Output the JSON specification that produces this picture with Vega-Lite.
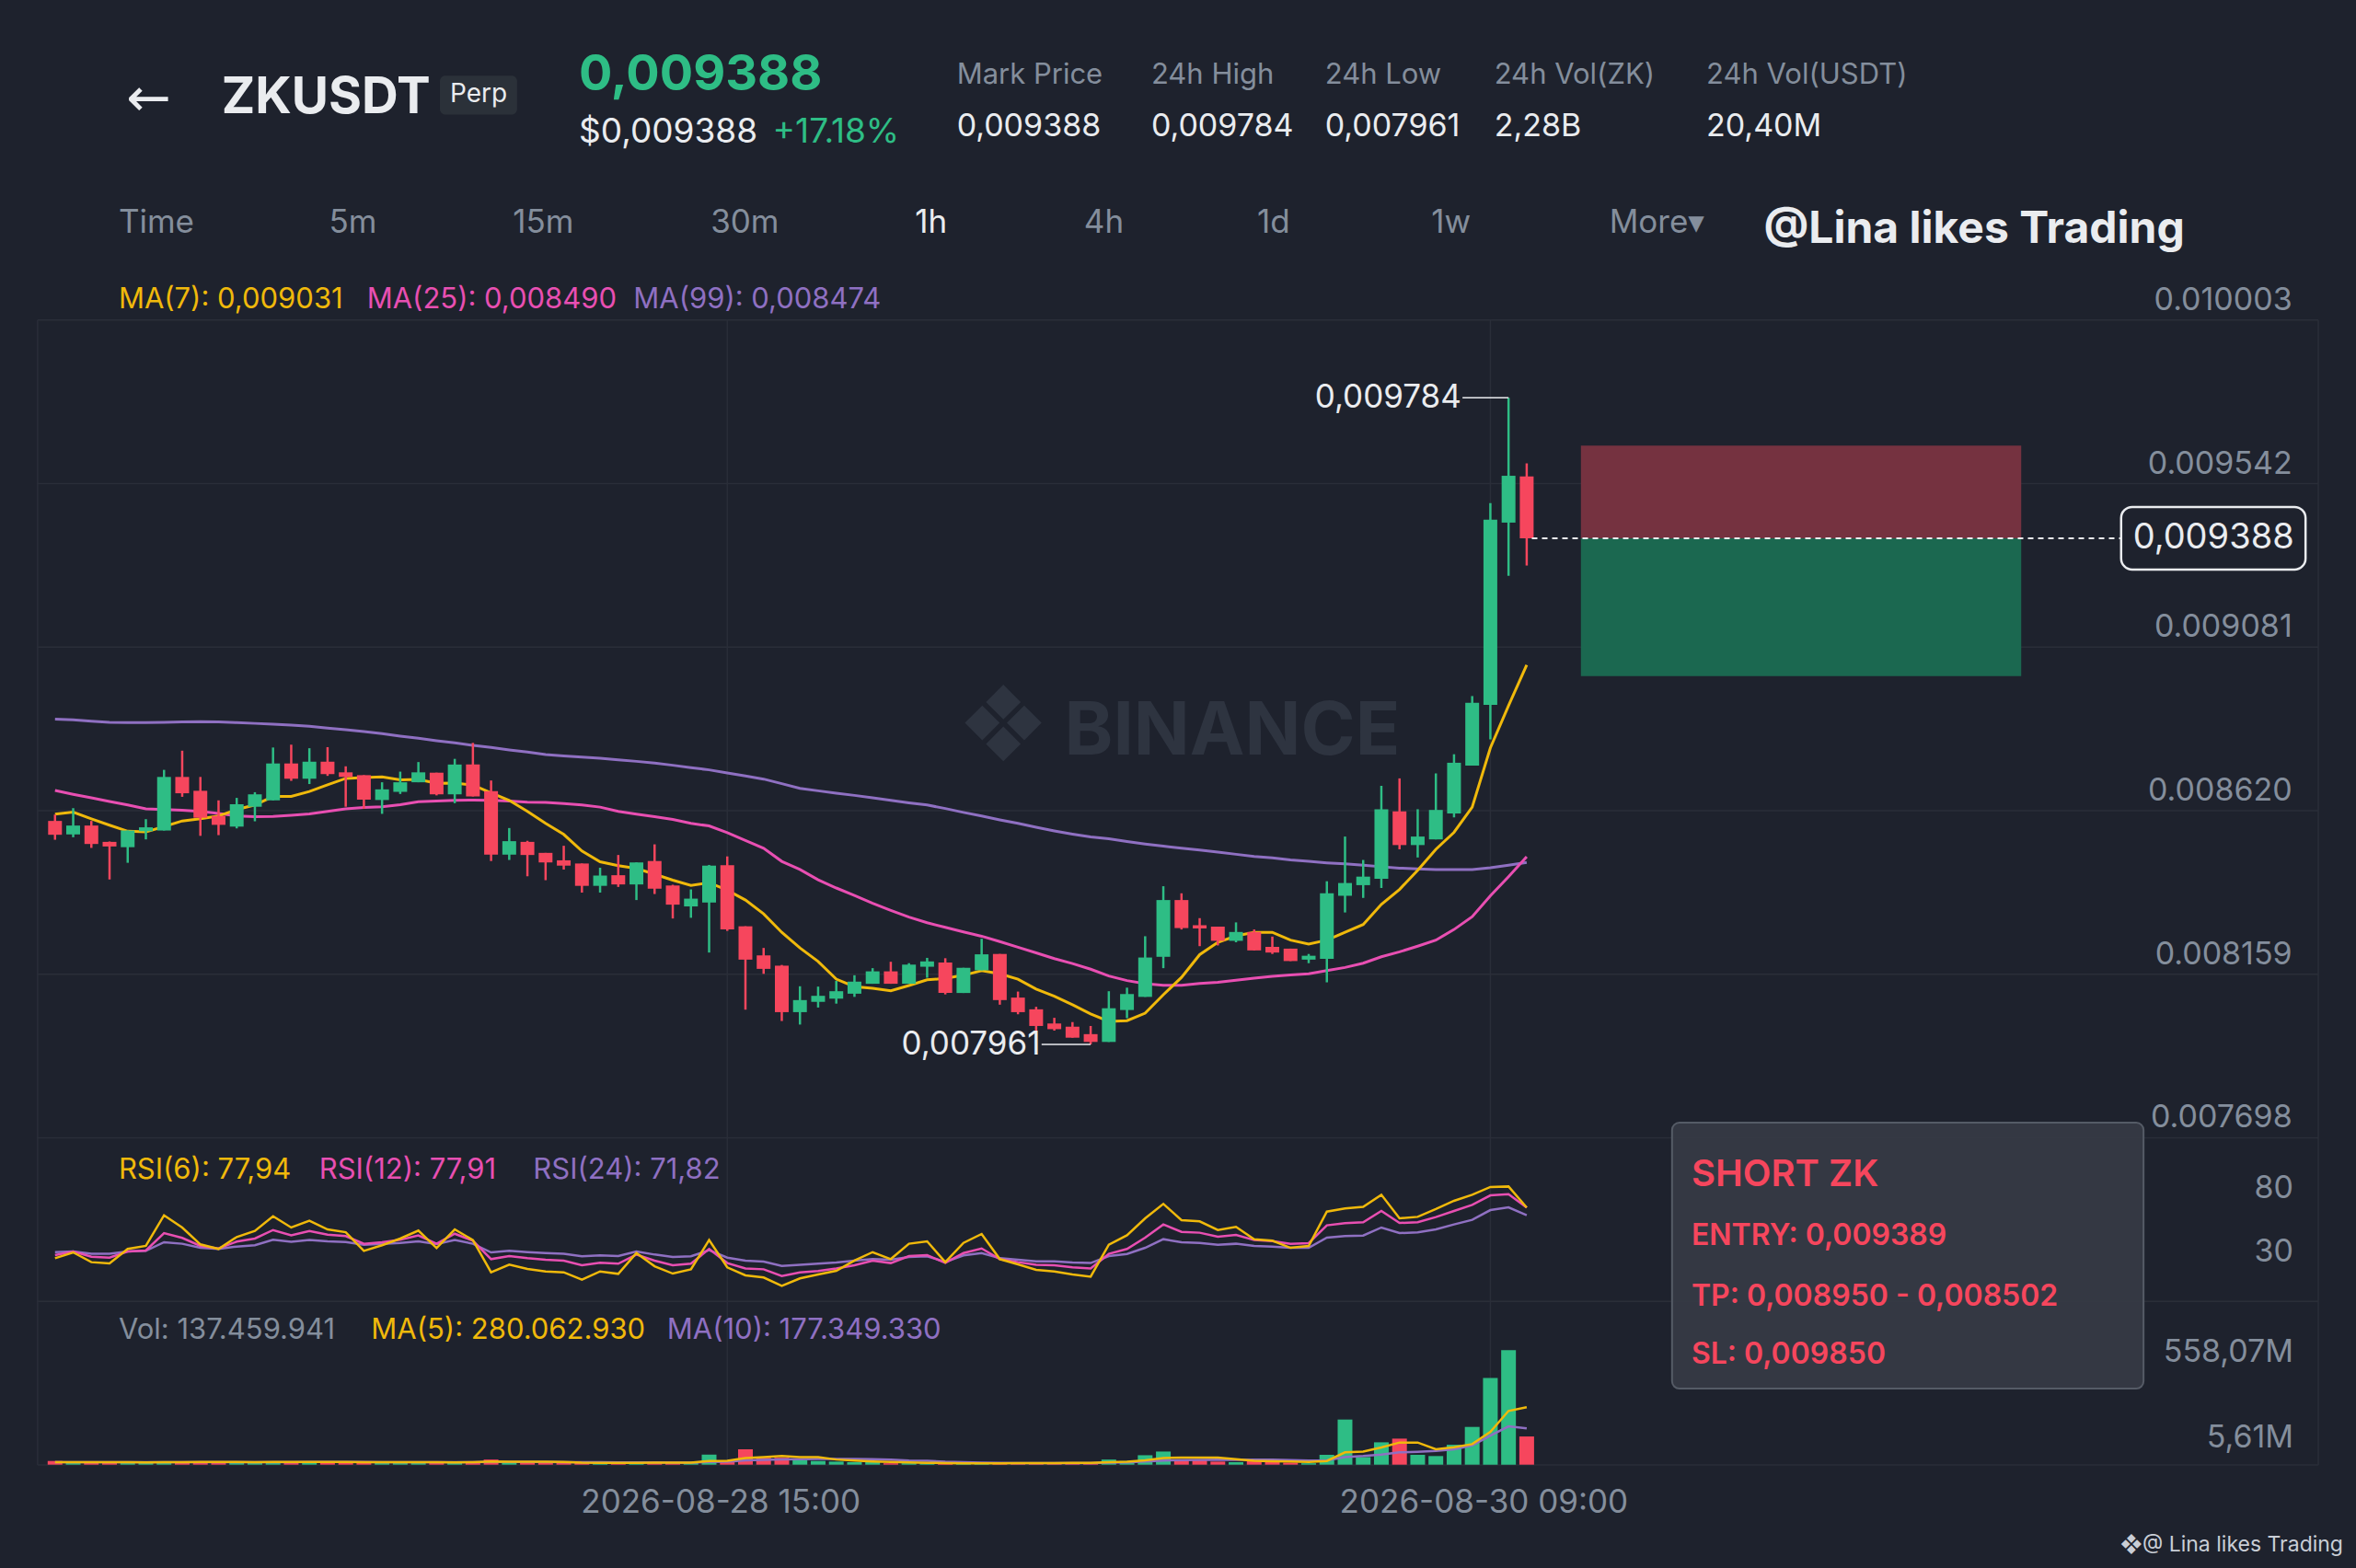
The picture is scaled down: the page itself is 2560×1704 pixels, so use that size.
{
  "$schema": "https://vega.github.io/schema/vega-lite/v6.json",
  "width": 2560,
  "height": 1704,
  "autosize": {"type": "fit", "contains": "padding"},
  "padding": 0,
  "background": "#1e222d",
  "config": {
    "view": {"stroke": null},
    "axis": {"disable": true},
    "font": "Inter",
    "text": {"font": "Inter, 'DejaVu Sans', sans-serif"}
  },
  "datasets": {
    "k": [
      {"t":"2026-08-27T02:00","o":0.008591,"h":0.008609,"l":0.008538,"c":0.008552,"ma7":0.008610,"ma25":0.008677,"ma99":0.008878,"rsi6":38.0,"rsi12":40.4,"rsi24":42.8,"v":18000000,"vma5":12000000,"vma10":12000000},
      {"t":"2026-08-27T03:00","o":0.008553,"h":0.008627,"l":0.008545,"c":0.008578,"ma7":0.008616,"ma25":0.008666,"ma99":0.008876,"rsi6":42.6,"rsi12":43.3,"rsi24":43.3,"v":10000000,"vma5":12000000,"vma10":12000000},
      {"t":"2026-08-27T04:00","o":0.008578,"h":0.008591,"l":0.008515,"c":0.008526,"ma7":0.008597,"ma25":0.008656,"ma99":0.008872,"rsi6":34.9,"rsi12":39.2,"rsi24":41.6,"v":10000000,"vma5":12000000,"vma10":12000000},
      {"t":"2026-08-27T05:00","o":0.008532,"h":0.008533,"l":0.008426,"c":0.008519,"ma7":0.008579,"ma25":0.008646,"ma99":0.008869,"rsi6":33.9,"rsi12":38.5,"rsi24":41.6,"v":10000000,"vma5":12000000,"vma10":12000000},
      {"t":"2026-08-27T06:00","o":0.008517,"h":0.008564,"l":0.008473,"c":0.008564,"ma7":0.008562,"ma25":0.008636,"ma99":0.008868,"rsi6":45.3,"rsi12":43.3,"rsi24":43.3,"v":12000000,"vma5":12000000,"vma10":12000000},
      {"t":"2026-08-27T07:00","o":0.008562,"h":0.008596,"l":0.008539,"c":0.008573,"ma7":0.008560,"ma25":0.008625,"ma99":0.008868,"rsi6":47.7,"rsi12":44.1,"rsi24":43.8,"v":12000000,"vma5":11000000,"vma10":12000000},
      {"t":"2026-08-27T08:00","o":0.008564,"h":0.008735,"l":0.008564,"c":0.008715,"ma7":0.008575,"ma25":0.008623,"ma99":0.008869,"rsi6":71.8,"rsi12":57.8,"rsi24":50.6,"v":15000000,"vma5":12000000,"vma10":12000000},
      {"t":"2026-08-27T09:00","o":0.008715,"h":0.008789,"l":0.008659,"c":0.008669,"ma7":0.008591,"ma25":0.008621,"ma99":0.008870,"rsi6":62.2,"rsi12":54.0,"rsi24":49.4,"v":13000000,"vma5":12000000,"vma10":12000000},
      {"t":"2026-08-27T10:00","o":0.008676,"h":0.008715,"l":0.008549,"c":0.008600,"ma7":0.008597,"ma25":0.008618,"ma99":0.008871,"rsi6":48.9,"rsi12":47.7,"rsi24":46.2,"v":13000000,"vma5":13000000,"vma10":12000000},
      {"t":"2026-08-27T11:00","o":0.008605,"h":0.008649,"l":0.008551,"c":0.008580,"ma7":0.008605,"ma25":0.008612,"ma99":0.008870,"rsi6":45.3,"rsi12":45.7,"rsi24":45.3,"v":12000000,"vma5":13000000,"vma10":12000000},
      {"t":"2026-08-27T12:00","o":0.008575,"h":0.008656,"l":0.008570,"c":0.008638,"ma7":0.008623,"ma25":0.008605,"ma99":0.008868,"rsi6":54.7,"rsi12":51.1,"rsi24":47.2,"v":12000000,"vma5":13000000,"vma10":12000000},
      {"t":"2026-08-27T13:00","o":0.008631,"h":0.008672,"l":0.008590,"c":0.008666,"ma7":0.008636,"ma25":0.008603,"ma99":0.008866,"rsi6":59.5,"rsi12":53.5,"rsi24":48.2,"v":12000000,"vma5":12000000,"vma10":12000000},
      {"t":"2026-08-27T14:00","o":0.008649,"h":0.008798,"l":0.008649,"c":0.008753,"ma7":0.008660,"ma25":0.008604,"ma99":0.008864,"rsi6":71.1,"rsi12":60.2,"rsi24":52.5,"v":15000000,"vma5":13000000,"vma10":12000000},
      {"t":"2026-08-27T15:00","o":0.008753,"h":0.008806,"l":0.008704,"c":0.008710,"ma7":0.008660,"ma25":0.008607,"ma99":0.008861,"rsi6":62.2,"rsi12":56.1,"rsi24":51.0,"v":13000000,"vma5":13000000,"vma10":12000000},
      {"t":"2026-08-27T16:00","o":0.008710,"h":0.008796,"l":0.008695,"c":0.008758,"ma7":0.008674,"ma25":0.008611,"ma99":0.008858,"rsi6":67.5,"rsi12":59.5,"rsi24":52.3,"v":13000000,"vma5":13000000,"vma10":13000000},
      {"t":"2026-08-27T17:00","o":0.008758,"h":0.008799,"l":0.008718,"c":0.008723,"ma7":0.008693,"ma25":0.008618,"ma99":0.008853,"rsi6":60.7,"rsi12":56.6,"rsi24":51.3,"v":12000000,"vma5":13000000,"vma10":13000000},
      {"t":"2026-08-27T18:00","o":0.008728,"h":0.008745,"l":0.008631,"c":0.008715,"ma7":0.008711,"ma25":0.008625,"ma99":0.008848,"rsi6":58.5,"rsi12":55.4,"rsi24":50.8,"v":12000000,"vma5":13000000,"vma10":13000000},
      {"t":"2026-08-27T19:00","o":0.008720,"h":0.008720,"l":0.008625,"c":0.008651,"ma7":0.008713,"ma25":0.008629,"ma99":0.008843,"rsi6":43.8,"rsi12":49.4,"rsi24":48.6,"v":13000000,"vma5":12000000,"vma10":13000000},
      {"t":"2026-08-27T20:00","o":0.008650,"h":0.008700,"l":0.008611,"c":0.008680,"ma7":0.008715,"ma25":0.008631,"ma99":0.008837,"rsi6":48.2,"rsi12":50.6,"rsi24":49.4,"v":12000000,"vma5":12000000,"vma10":12000000},
      {"t":"2026-08-27T21:00","o":0.008673,"h":0.008730,"l":0.008667,"c":0.008700,"ma7":0.008707,"ma25":0.008637,"ma99":0.008830,"rsi6":53.5,"rsi12":52.5,"rsi24":50.1,"v":12000000,"vma5":12000000,"vma10":12000000},
      {"t":"2026-08-27T22:00","o":0.008700,"h":0.008757,"l":0.008700,"c":0.008728,"ma7":0.008708,"ma25":0.008645,"ma99":0.008824,"rsi6":59.8,"rsi12":55.9,"rsi24":51.3,"v":12000000,"vma5":12000000,"vma10":12000000},
      {"t":"2026-08-27T23:00","o":0.008727,"h":0.008727,"l":0.008663,"c":0.008666,"ma7":0.008697,"ma25":0.008647,"ma99":0.008817,"rsi6":46.0,"rsi12":49.4,"rsi24":49.1,"v":13000000,"vma5":12000000,"vma10":12000000},
      {"t":"2026-08-28T00:00","o":0.008666,"h":0.008766,"l":0.008641,"c":0.008750,"ma7":0.008698,"ma25":0.008649,"ma99":0.008811,"rsi6":60.7,"rsi12":57.3,"rsi24":52.3,"v":8000000,"vma5":11000000,"vma10":12000000},
      {"t":"2026-08-28T01:00","o":0.008750,"h":0.008811,"l":0.008660,"c":0.008660,"ma7":0.008692,"ma25":0.008650,"ma99":0.008804,"rsi6":52.3,"rsi12":51.8,"rsi24":49.4,"v":15000000,"vma5":12000000,"vma10":12000000},
      {"t":"2026-08-28T02:00","o":0.008675,"h":0.008705,"l":0.008478,"c":0.008496,"ma7":0.008670,"ma25":0.008649,"ma99":0.008798,"rsi6":26.9,"rsi12":37.3,"rsi24":42.6,"v":25000000,"vma5":15000000,"vma10":13000000},
      {"t":"2026-08-28T03:00","o":0.008496,"h":0.008571,"l":0.008481,"c":0.008534,"ma7":0.008649,"ma25":0.008647,"ma99":0.008791,"rsi6":32.9,"rsi12":39.7,"rsi24":43.8,"v":10000000,"vma5":14000000,"vma10":13000000},
      {"t":"2026-08-28T04:00","o":0.008532,"h":0.008535,"l":0.008435,"c":0.008495,"ma7":0.008618,"ma25":0.008644,"ma99":0.008785,"rsi6":29.6,"rsi12":38.0,"rsi24":42.8,"v":10000000,"vma5":14000000,"vma10":13000000},
      {"t":"2026-08-28T05:00","o":0.008501,"h":0.008501,"l":0.008424,"c":0.008474,"ma7":0.008584,"ma25":0.008643,"ma99":0.008778,"rsi6":27.6,"rsi12":36.8,"rsi24":42.1,"v":10000000,"vma5":14000000,"vma10":13000000},
      {"t":"2026-08-28T06:00","o":0.008480,"h":0.008521,"l":0.008454,"c":0.008465,"ma7":0.008553,"ma25":0.008640,"ma99":0.008774,"rsi6":26.9,"rsi12":36.1,"rsi24":41.6,"v":9000000,"vma5":13000000,"vma10":12000000},
      {"t":"2026-08-28T07:00","o":0.008471,"h":0.008471,"l":0.008389,"c":0.008408,"ma7":0.008506,"ma25":0.008636,"ma99":0.008771,"rsi6":21.1,"rsi12":32.5,"rsi24":39.5,"v":10000000,"vma5":10000000,"vma10":12000000},
      {"t":"2026-08-28T08:00","o":0.008408,"h":0.008459,"l":0.008389,"c":0.008437,"ma7":0.008476,"ma25":0.008630,"ma99":0.008768,"rsi6":27.6,"rsi12":34.4,"rsi24":40.2,"v":8000000,"vma5":9000000,"vma10":12000000},
      {"t":"2026-08-28T09:00","o":0.008438,"h":0.008495,"l":0.008405,"c":0.008412,"ma7":0.008465,"ma25":0.008618,"ma99":0.008763,"rsi6":25.7,"rsi12":33.7,"rsi24":39.7,"v":10000000,"vma5":9000000,"vma10":11000000},
      {"t":"2026-08-28T10:00","o":0.008412,"h":0.008474,"l":0.008368,"c":0.008474,"ma7":0.008457,"ma25":0.008610,"ma99":0.008759,"rsi6":42.1,"rsi12":40.9,"rsi24":43.3,"v":10000000,"vma5":9000000,"vma10":11000000},
      {"t":"2026-08-28T11:00","o":0.008478,"h":0.008525,"l":0.008385,"c":0.008400,"ma7":0.008441,"ma25":0.008603,"ma99":0.008754,"rsi6":31.7,"rsi12":36.1,"rsi24":40.9,"v":10000000,"vma5":10000000,"vma10":11000000},
      {"t":"2026-08-28T12:00","o":0.008409,"h":0.008411,"l":0.008316,"c":0.008355,"ma7":0.008424,"ma25":0.008595,"ma99":0.008748,"rsi6":25.9,"rsi12":32.5,"rsi24":39.0,"v":10000000,"vma5":10000000,"vma10":10000000},
      {"t":"2026-08-28T13:00","o":0.008350,"h":0.008398,"l":0.008318,"c":0.008372,"ma7":0.008409,"ma25":0.008584,"ma99":0.008741,"rsi6":29.3,"rsi12":33.7,"rsi24":39.5,"v":10000000,"vma5":10000000,"vma10":10000000},
      {"t":"2026-08-28T14:00","o":0.008361,"h":0.008467,"l":0.008220,"c":0.008465,"ma7":0.008417,"ma25":0.008577,"ma99":0.008735,"rsi6":52.3,"rsi12":45.3,"rsi24":44.3,"v":49000000,"vma5":18000000,"vma10":13000000},
      {"t":"2026-08-28T15:00","o":0.008466,"h":0.008491,"l":0.008281,"c":0.008285,"ma7":0.008396,"ma25":0.008558,"ma99":0.008726,"rsi6":30.8,"rsi12":34.2,"rsi24":38.5,"v":18000000,"vma5":19000000,"vma10":14000000},
      {"t":"2026-08-28T16:00","o":0.008294,"h":0.008294,"l":0.008059,"c":0.008200,"ma7":0.008368,"ma25":0.008536,"ma99":0.008718,"rsi6":24.5,"rsi12":30.0,"rsi24":36.1,"v":75000000,"vma5":32000000,"vma10":21000000},
      {"t":"2026-08-28T17:00","o":0.008212,"h":0.008233,"l":0.008160,"c":0.008174,"ma7":0.008329,"ma25":0.008514,"ma99":0.008709,"rsi6":22.8,"rsi12":29.3,"rsi24":35.4,"v":34000000,"vma5":37000000,"vma10":23000000},
      {"t":"2026-08-28T18:00","o":0.008183,"h":0.008185,"l":0.008027,"c":0.008052,"ma7":0.008277,"ma25":0.008477,"ma99":0.008696,"rsi6":16.3,"rsi12":24.0,"rsi24":32.0,"v":34000000,"vma5":42000000,"vma10":26000000},
      {"t":"2026-08-28T19:00","o":0.008052,"h":0.008125,"l":0.008017,"c":0.008086,"ma7":0.008233,"ma25":0.008454,"ma99":0.008683,"rsi6":22.1,"rsi12":26.9,"rsi24":32.9,"v":22000000,"vma5":37000000,"vma10":27000000},
      {"t":"2026-08-28T20:00","o":0.008081,"h":0.008124,"l":0.008065,"c":0.008098,"ma7":0.008195,"ma25":0.008425,"ma99":0.008676,"rsi6":25.2,"rsi12":27.9,"rsi24":33.7,"v":18000000,"vma5":37000000,"vma10":28000000},
      {"t":"2026-08-28T21:00","o":0.008090,"h":0.008140,"l":0.008076,"c":0.008111,"ma7":0.008145,"ma25":0.008402,"ma99":0.008669,"rsi6":28.1,"rsi12":30.0,"rsi24":34.6,"v":15000000,"vma5":25000000,"vma10":28000000},
      {"t":"2026-08-28T22:00","o":0.008104,"h":0.008156,"l":0.008095,"c":0.008138,"ma7":0.008124,"ma25":0.008381,"ma99":0.008663,"rsi6":36.1,"rsi12":32.5,"rsi24":36.1,"v":12000000,"vma5":20000000,"vma10":28000000},
      {"t":"2026-08-28T23:00","o":0.008132,"h":0.008176,"l":0.008132,"c":0.008167,"ma7":0.008119,"ma25":0.008359,"ma99":0.008656,"rsi6":42.8,"rsi12":36.1,"rsi24":37.3,"v":12000000,"vma5":16000000,"vma10":27000000},
      {"t":"2026-08-29T00:00","o":0.008167,"h":0.008194,"l":0.008132,"c":0.008132,"ma7":0.008112,"ma25":0.008339,"ma99":0.008649,"rsi6":37.3,"rsi12":34.2,"rsi24":36.8,"v":7000000,"vma5":13000000,"vma10":25000000},
      {"t":"2026-08-29T01:00","o":0.008132,"h":0.008190,"l":0.008132,"c":0.008186,"ma7":0.008127,"ma25":0.008320,"ma99":0.008642,"rsi6":49.4,"rsi12":39.7,"rsi24":39.0,"v":7000000,"vma5":11000000,"vma10":20000000},
      {"t":"2026-08-29T02:00","o":0.008180,"h":0.008205,"l":0.008149,"c":0.008195,"ma7":0.008143,"ma25":0.008304,"ma99":0.008636,"rsi6":51.3,"rsi12":40.4,"rsi24":39.5,"v":7000000,"vma5":9000000,"vma10":19000000},
      {"t":"2026-08-29T03:00","o":0.008192,"h":0.008204,"l":0.008102,"c":0.008106,"ma7":0.008147,"ma25":0.008291,"ma99":0.008626,"rsi6":34.9,"rsi12":34.4,"rsi24":35.1,"v":7000000,"vma5":8000000,"vma10":14000000},
      {"t":"2026-08-29T04:00","o":0.008106,"h":0.008177,"l":0.008106,"c":0.008177,"ma7":0.008156,"ma25":0.008278,"ma99":0.008615,"rsi6":50.1,"rsi12":42.1,"rsi24":40.2,"v":7000000,"vma5":7000000,"vma10":12000000},
      {"t":"2026-08-29T05:00","o":0.008170,"h":0.008259,"l":0.008170,"c":0.008215,"ma7":0.008169,"ma25":0.008266,"ma99":0.008605,"rsi6":57.1,"rsi12":45.7,"rsi24":42.1,"v":7000000,"vma5":7000000,"vma10":10000000},
      {"t":"2026-08-29T06:00","o":0.008216,"h":0.008216,"l":0.008073,"c":0.008086,"ma7":0.008160,"ma25":0.008251,"ma99":0.008594,"rsi6":37.3,"rsi12":37.3,"rsi24":38.0,"v":9000000,"vma5":7000000,"vma10":9000000},
      {"t":"2026-08-29T07:00","o":0.008093,"h":0.008110,"l":0.008046,"c":0.008052,"ma7":0.008145,"ma25":0.008235,"ma99":0.008584,"rsi6":33.2,"rsi12":34.9,"rsi24":36.8,"v":9000000,"vma5":8000000,"vma10":8000000},
      {"t":"2026-08-29T08:00","o":0.008060,"h":0.008067,"l":0.007996,"c":0.008013,"ma7":0.008117,"ma25":0.008219,"ma99":0.008573,"rsi6":28.8,"rsi12":32.9,"rsi24":35.6,"v":9000000,"vma5":8000000,"vma10":8000000},
      {"t":"2026-08-29T09:00","o":0.008020,"h":0.008036,"l":0.008000,"c":0.008004,"ma7":0.008097,"ma25":0.008203,"ma99":0.008563,"rsi6":27.6,"rsi12":32.5,"rsi24":35.6,"v":7000000,"vma5":8000000,"vma10":8000000},
      {"t":"2026-08-29T10:00","o":0.008011,"h":0.008024,"l":0.007980,"c":0.007980,"ma7":0.008073,"ma25":0.008189,"ma99":0.008554,"rsi6":25.2,"rsi12":30.8,"rsi24":34.6,"v":9000000,"vma5":9000000,"vma10":8000000},
      {"t":"2026-08-29T11:00","o":0.007990,"h":0.008013,"l":0.007961,"c":0.007968,"ma7":0.008047,"ma25":0.008173,"ma99":0.008546,"rsi6":23.5,"rsi12":30.0,"rsi24":34.2,"v":9000000,"vma5":9000000,"vma10":8000000},
      {"t":"2026-08-29T12:00","o":0.007968,"h":0.008111,"l":0.007968,"c":0.008063,"ma7":0.008026,"ma25":0.008154,"ma99":0.008541,"rsi6":48.6,"rsi12":41.4,"rsi24":39.7,"v":25000000,"vma5":12000000,"vma10":10000000},
      {"t":"2026-08-29T13:00","o":0.008058,"h":0.008121,"l":0.008035,"c":0.008103,"ma7":0.008028,"ma25":0.008141,"ma99":0.008533,"rsi6":56.1,"rsi12":45.3,"rsi24":41.4,"v":18000000,"vma5":14000000,"vma10":11000000},
      {"t":"2026-08-29T14:00","o":0.008095,"h":0.008266,"l":0.008095,"c":0.008206,"ma7":0.008049,"ma25":0.008132,"ma99":0.008526,"rsi6":69.4,"rsi12":54.2,"rsi24":46.2,"v":46000000,"vma5":21000000,"vma10":15000000},
      {"t":"2026-08-29T15:00","o":0.008208,"h":0.008407,"l":0.008176,"c":0.008368,"ma7":0.008101,"ma25":0.008128,"ma99":0.008520,"rsi6":80.8,"rsi12":64.6,"rsi24":53.0,"v":64000000,"vma5":32000000,"vma10":20000000},
      {"t":"2026-08-29T16:00","o":0.008368,"h":0.008387,"l":0.008285,"c":0.008289,"ma7":0.008150,"ma25":0.008128,"ma99":0.008514,"rsi6":68.0,"rsi12":58.8,"rsi24":50.6,"v":22000000,"vma5":35000000,"vma10":22000000},
      {"t":"2026-08-29T17:00","o":0.008297,"h":0.008317,"l":0.008238,"c":0.008288,"ma7":0.008214,"ma25":0.008133,"ma99":0.008509,"rsi6":67.0,"rsi12":58.1,"rsi24":50.1,"v":22000000,"vma5":34000000,"vma10":23000000},
      {"t":"2026-08-29T18:00","o":0.008293,"h":0.008293,"l":0.008240,"c":0.008253,"ma7":0.008249,"ma25":0.008136,"ma99":0.008503,"rsi6":60.2,"rsi12":54.9,"rsi24":48.6,"v":15000000,"vma5":34000000,"vma10":24000000},
      {"t":"2026-08-29T19:00","o":0.008253,"h":0.008305,"l":0.008249,"c":0.008278,"ma7":0.008267,"ma25":0.008142,"ma99":0.008497,"rsi6":62.7,"rsi12":56.4,"rsi24":49.4,"v":12000000,"vma5":27000000,"vma10":23000000},
      {"t":"2026-08-29T20:00","o":0.008278,"h":0.008285,"l":0.008226,"c":0.008226,"ma7":0.008277,"ma25":0.008148,"ma99":0.008491,"rsi6":53.0,"rsi12":52.3,"rsi24":47.7,"v":22000000,"vma5":19000000,"vma10":25000000},
      {"t":"2026-08-29T21:00","o":0.008236,"h":0.008265,"l":0.008216,"c":0.008220,"ma7":0.008277,"ma25":0.008153,"ma99":0.008487,"rsi6":51.8,"rsi12":51.5,"rsi24":47.2,"v":15000000,"vma5":17000000,"vma10":25000000},
      {"t":"2026-08-29T22:00","o":0.008231,"h":0.008231,"l":0.008196,"c":0.008196,"ma7":0.008255,"ma25":0.008157,"ma99":0.008481,"rsi6":46.2,"rsi12":49.4,"rsi24":46.2,"v":10000000,"vma5":15000000,"vma10":22000000},
      {"t":"2026-08-29T23:00","o":0.008200,"h":0.008216,"l":0.008190,"c":0.008211,"ma7":0.008244,"ma25":0.008160,"ma99":0.008477,"rsi6":47.7,"rsi12":49.9,"rsi24":46.2,"v":7000000,"vma5":13000000,"vma10":20000000},
      {"t":"2026-08-30T00:00","o":0.008202,"h":0.008421,"l":0.008136,"c":0.008387,"ma7":0.008255,"ma25":0.008169,"ma99":0.008473,"rsi6":74.7,"rsi12":63.9,"rsi24":54.2,"v":48000000,"vma5":18000000,"vma10":21000000},
      {"t":"2026-08-30T01:00","o":0.008380,"h":0.008547,"l":0.008333,"c":0.008416,"ma7":0.008277,"ma25":0.008178,"ma99":0.008470,"rsi6":77.2,"rsi12":65.6,"rsi24":55.4,"v":220000000,"vma5":60000000,"vma10":37000000},
      {"t":"2026-08-30T02:00","o":0.008410,"h":0.008481,"l":0.008374,"c":0.008434,"ma7":0.008299,"ma25":0.008190,"ma99":0.008466,"rsi6":78.4,"rsi12":66.3,"rsi24":55.9,"v":37000000,"vma5":64000000,"vma10":42000000},
      {"t":"2026-08-30T03:00","o":0.008428,"h":0.008690,"l":0.008402,"c":0.008624,"ma7":0.008356,"ma25":0.008208,"ma99":0.008462,"rsi6":88.0,"rsi12":75.2,"rsi24":62.2,"v":109000000,"vma5":84000000,"vma10":49000000},
      {"t":"2026-08-30T04:00","o":0.008618,"h":0.008711,"l":0.008511,"c":0.008523,"ma7":0.008398,"ma25":0.008222,"ma99":0.008458,"rsi6":69.4,"rsi12":65.8,"rsi24":57.8,"v":127000000,"vma5":108000000,"vma10":60000000},
      {"t":"2026-08-30T05:00","o":0.008523,"h":0.008624,"l":0.008488,"c":0.008547,"ma7":0.008452,"ma25":0.008238,"ma99":0.008456,"rsi6":70.6,"rsi12":66.3,"rsi24":58.3,"v":48000000,"vma5":108000000,"vma10":63000000},
      {"t":"2026-08-30T06:00","o":0.008539,"h":0.008725,"l":0.008539,"c":0.008622,"ma7":0.008511,"ma25":0.008255,"ma99":0.008454,"rsi6":76.7,"rsi12":70.4,"rsi24":60.7,"v":42000000,"vma5":75000000,"vma10":67000000},
      {"t":"2026-08-30T07:00","o":0.008612,"h":0.008779,"l":0.008601,"c":0.008755,"ma7":0.008559,"ma25":0.008285,"ma99":0.008454,"rsi6":83.2,"rsi12":75.2,"rsi24":64.6,"v":97000000,"vma5":85000000,"vma10":75000000},
      {"t":"2026-08-30T08:00","o":0.008747,"h":0.008943,"l":0.008747,"c":0.008924,"ma7":0.008630,"ma25":0.008321,"ma99":0.008454,"rsi6":88.0,"rsi12":80.0,"rsi24":68.2,"v":184000000,"vma5":100000000,"vma10":94000000},
      {"t":"2026-08-30T09:00","o":0.008918,"h":0.009487,"l":0.008821,"c":0.009440,"ma7":0.008797,"ma25":0.008380,"ma99":0.008459,"rsi6":94.1,"rsi12":87.5,"rsi24":75.9,"v":423000000,"vma5":160000000,"vma10":142000000},
      {"t":"2026-08-30T10:00","o":0.009432,"h":0.009784,"l":0.009282,"c":0.009564,"ma7":0.008916,"ma25":0.008434,"ma99":0.008466,"rsi6":94.5,"rsi12":88.5,"rsi24":78.1,"v":558000000,"vma5":262000000,"vma10":187000000},
      {"t":"2026-08-30T11:00","o":0.009562,"h":0.009599,"l":0.009311,"c":0.009388,"ma7":0.009031,"ma25":0.008490,"ma99":0.008474,"rsi6":77.94,"rsi12":77.91,"rsi24":71.82,"v":137459941,"vma5":280062930,"vma10":177349330}
    ],
    "levels": [{"p":0.010003},{"p":0.009542},{"p":0.009081},{"p":0.008620},{"p":0.008159},{"p":0.007698}],
    "ticks": [{"t":"2026-08-28T15:00"},{"t":"2026-08-30T09:00"}]
  },
  "resolve": {"scale": {"y": "independent"}},
  "layer": [
    {
      "data": {"values": [{}]},
      "layer": [
        {
          "data": {"name": "levels"},
          "mark": {"type": "rule", "color": "#2a2e39", "strokeWidth": 1.5},
          "encoding": {
            "x": {"datum": {"year":2026,"month":8,"date":27,"hours":1,"minutes":2,"seconds":30}, "type": "temporal",
                  "scale": {"domain": [{"year":2026,"month":8,"date":26,"hours":23,"minutes":13,"seconds":30},{"year":2026,"month":9,"date":1,"hours":8,"minutes":23,"seconds":24}]}},
            "x2": {"datum": {"year":2026,"month":9,"date":1,"hours":6,"minutes":34}},
            "y": {"field": "p", "type": "quantitative", "scale": {"domain": [0.007698, 0.010003], "range": [1236.4, 347.8], "nice": false, "zero": false}}
          }
        },
        {
          "mark": {"type": "rule", "color": "#2a2e39", "strokeWidth": 1.5},
          "encoding": {
            "x": {"datum": {"year":2026,"month":8,"date":27,"hours":1,"minutes":2,"seconds":30}, "type": "temporal"},
            "x2": {"datum": {"year":2026,"month":9,"date":1,"hours":6,"minutes":34}},
            "y": {"datum": 0.0072365, "type": "quantitative"}
          }
        },
        {
          "mark": {"type": "rule", "color": "#2a2e39", "strokeWidth": 1.5},
          "encoding": {
            "x": {"datum": {"year":2026,"month":8,"date":27,"hours":1,"minutes":2,"seconds":30}, "type": "temporal"},
            "x2": {"datum": {"year":2026,"month":9,"date":1,"hours":6,"minutes":34}},
            "y": {"datum": 0.0067755, "type": "quantitative"}
          }
        },
        {
          "data": {"name": "ticks"},
          "mark": {"type": "rule", "color": "#2a2e39", "strokeWidth": 1.5},
          "encoding": {
            "x": {"field": "t", "type": "temporal"},
            "y": {"datum": 0.010003, "type": "quantitative"},
            "y2": {"datum": 0.0067755}
          }
        },
        {
          "mark": {"type": "rule", "color": "#2a2e39", "strokeWidth": 1.5},
          "encoding": {
            "x": {"datum": {"year":2026,"month":8,"date":27,"hours":1,"minutes":2,"seconds":30}, "type": "temporal"},
            "y": {"datum": 0.010003, "type": "quantitative"},
            "y2": {"datum": 0.0067755}
          }
        },
        {
          "mark": {"type": "rule", "color": "#2a2e39", "strokeWidth": 1.5},
          "encoding": {
            "x": {"datum": {"year":2026,"month":9,"date":1,"hours":6,"minutes":34}, "type": "temporal"},
            "y": {"datum": 0.010003, "type": "quantitative"},
            "y2": {"datum": 0.0067755}
          }
        },
        {
          "mark": {"type": "rect", "color": "#753240"},
          "encoding": {
            "x": {"datum": {"year":2026,"month":8,"date":30,"hours":13,"minutes":59}, "type": "temporal"},
            "x2": {"datum": {"year":2026,"month":8,"date":31,"hours":14,"minutes":13}},
            "y": {"datum": 0.009649, "type": "quantitative"},
            "y2": {"datum": 0.009388}
          }
        },
        {
          "mark": {"type": "rect", "color": "#1b6850"},
          "encoding": {
            "x": {"datum": {"year":2026,"month":8,"date":30,"hours":13,"minutes":59}, "type": "temporal"},
            "x2": {"datum": {"year":2026,"month":8,"date":31,"hours":14,"minutes":13}},
            "y": {"datum": 0.009388, "type": "quantitative"},
            "y2": {"datum": 0.008999}
          }
        },
        {
          "mark": {"type": "text", "align": "center", "baseline": "middle", "fontSize": 114, "color": "#2e3440", "font": "DejaVu Sans"},
          "encoding": {
            "x": {"datum": {"year":2026,"month":8,"date":29,"hours":6,"minutes":11}, "type": "temporal"},
            "y": {"datum": 0.008848, "type": "quantitative"},
            "text": {"value": "❖"}
          }
        },
        {
          "mark": {"type": "text", "align": "left", "baseline": "alphabetic", "fontSize": 80, "fontWeight": "bold", "color": "#2e3440"},
          "encoding": {
            "x": {"datum": {"year":2026,"month":8,"date":29,"hours":9,"minutes":33}, "type": "temporal"},
            "y": {"datum": 0.008779, "type": "quantitative"},
            "text": {"value": "BINANCE"}
          }
        },
        {
          "data": {"name": "k"},
          "mark": {"type": "line", "color": "#8f70c2", "strokeWidth": 3},
          "encoding": {"x": {"field": "t", "type": "temporal"}, "y": {"field": "ma99", "type": "quantitative"}}
        },
        {
          "data": {"name": "k"},
          "mark": {"type": "line", "color": "#e84fb2", "strokeWidth": 3},
          "encoding": {"x": {"field": "t", "type": "temporal"}, "y": {"field": "ma25", "type": "quantitative"}}
        },
        {
          "data": {"name": "k"},
          "mark": {"type": "line", "color": "#f0b90b", "strokeWidth": 3},
          "encoding": {"x": {"field": "t", "type": "temporal"}, "y": {"field": "ma7", "type": "quantitative"}}
        },
        {
          "data": {"name": "k"},
          "mark": {"type": "rule", "strokeWidth": 2.5},
          "encoding": {
            "x": {"field": "t", "type": "temporal"},
            "y": {"field": "l", "type": "quantitative"},
            "y2": {"field": "h"},
            "color": {"condition": {"test": "datum.c >= datum.o", "value": "#2ebd85"}, "value": "#f6465d"}
          }
        },
        {
          "data": {"name": "k"},
          "mark": {"type": "bar", "width": 15},
          "encoding": {
            "x": {"field": "t", "type": "temporal"},
            "y": {"field": "o", "type": "quantitative"},
            "y2": {"field": "c"},
            "color": {"condition": {"test": "datum.c >= datum.o", "value": "#2ebd85"}, "value": "#f6465d"}
          }
        },
        {
          "mark": {"type": "rule", "color": "#eaecef", "strokeWidth": 1.5},
          "encoding": {
            "x": {"datum": {"year":2026,"month":8,"date":30,"hours":7,"minutes":28}, "type": "temporal"},
            "x2": {"datum": {"year":2026,"month":8,"date":30,"hours":10}},
            "y": {"datum": 0.009784, "type": "quantitative"}
          }
        },
        {
          "mark": {"type": "text", "align": "right", "baseline": "middle", "fontSize": 35, "color": "#eaecef"},
          "encoding": {
            "x": {"datum": {"year":2026,"month":8,"date":30,"hours":7,"minutes":24}, "type": "temporal"},
            "y": {"datum": 0.009784, "type": "quantitative"},
            "text": {"value": "0,009784"}
          }
        },
        {
          "mark": {"type": "rule", "color": "#eaecef", "strokeWidth": 1.5},
          "encoding": {
            "x": {"datum": {"year":2026,"month":8,"date":29,"hours":8,"minutes":18}, "type": "temporal"},
            "x2": {"datum": {"year":2026,"month":8,"date":29,"hours":11}},
            "y": {"datum": 0.007961, "type": "quantitative"}
          }
        },
        {
          "mark": {"type": "text", "align": "right", "baseline": "middle", "fontSize": 35, "color": "#eaecef"},
          "encoding": {
            "x": {"datum": {"year":2026,"month":8,"date":29,"hours":8,"minutes":14}, "type": "temporal"},
            "y": {"datum": 0.007961, "type": "quantitative"},
            "text": {"value": "0,007961"}
          }
        },
        {
          "mark": {"type": "rule", "color": "#eaecef", "strokeWidth": 2, "strokeDash": [6, 5]},
          "encoding": {
            "x": {"datum": {"year":2026,"month":8,"date":30,"hours":11,"minutes":17}, "type": "temporal"},
            "x2": {"datum": {"year":2026,"month":8,"date":31,"hours":19,"minutes":43}},
            "y": {"datum": 0.009388, "type": "quantitative"}
          }
        },
        {
          "mark": {"type": "rect", "fill": "#1e222d", "stroke": "#eaecef", "strokeWidth": 2.5, "cornerRadius": 12},
          "encoding": {
            "x": {"datum": {"year":2026,"month":8,"date":31,"hours":19,"minutes":43}, "type": "temporal"},
            "x2": {"datum": {"year":2026,"month":9,"date":1,"hours":5,"minutes":52}},
            "y": {"datum": 0.0094761, "type": "quantitative"},
            "y2": {"datum": 0.0092997}
          }
        },
        {
          "mark": {"type": "text", "align": "center", "baseline": "middle", "fontSize": 38, "color": "#eaecef"},
          "encoding": {
            "x": {"datum": {"year":2026,"month":9,"date":1,"hours":0,"minutes":48}, "type": "temporal"},
            "y": {"datum": 0.009388, "type": "quantitative"},
            "text": {"value": "0,009388"}
          }
        }
      ]
    },
    {
      "layer": [
        {
          "data": {"name": "k"},
          "mark": {"type": "line", "color": "#8f70c2", "strokeWidth": 2.5},
          "encoding": {
            "x": {"field": "t", "type": "temporal"},
            "y": {"field": "rsi24", "type": "quantitative", "scale": {"domain": [0, 100], "range": [1419.8, 1281.8], "nice": false, "zero": false}}
          }
        },
        {
          "data": {"name": "k"},
          "mark": {"type": "line", "color": "#e84fb2", "strokeWidth": 2.5},
          "encoding": {"x": {"field": "t", "type": "temporal"}, "y": {"field": "rsi12", "type": "quantitative"}}
        },
        {
          "data": {"name": "k"},
          "mark": {"type": "line", "color": "#f0b90b", "strokeWidth": 2.5},
          "encoding": {"x": {"field": "t", "type": "temporal"}, "y": {"field": "rsi6", "type": "quantitative"}}
        },
        {
          "data": {"values": [{"r": 80}, {"r": 30}]},
          "mark": {"type": "text", "align": "right", "baseline": "alphabetic", "dy": -7.6, "fontSize": 34, "color": "#848e9c"},
          "encoding": {
            "x": {"datum": {"year":2026,"month":9,"date":1,"hours":5,"minutes":12}, "type": "temporal"},
            "y": {"field": "r", "type": "quantitative"},
            "text": {"field": "r", "type": "quantitative"}
          }
        }
      ]
    },
    {
      "layer": [
        {
          "data": {"name": "k"},
          "mark": {"type": "bar", "width": 16},
          "encoding": {
            "x": {"field": "t", "type": "temporal"},
            "y": {"field": "v", "type": "quantitative", "scale": {"domain": [0, 558070000], "range": [1591.7, 1467.3], "nice": false, "zero": false}},
            "color": {"condition": {"test": "datum.c >= datum.o", "value": "#2ebd85"}, "value": "#f6465d"}
          }
        },
        {
          "data": {"name": "k"},
          "mark": {"type": "line", "color": "#8f70c2", "strokeWidth": 2.5},
          "encoding": {"x": {"field": "t", "type": "temporal"}, "y": {"field": "vma10", "type": "quantitative"}}
        },
        {
          "data": {"name": "k"},
          "mark": {"type": "line", "color": "#f0b90b", "strokeWidth": 2.5},
          "encoding": {"x": {"field": "t", "type": "temporal"}, "y": {"field": "vma5", "type": "quantitative"}}
        },
        {
          "data": {"values": [{}]},
          "mark": {"type": "text", "align": "right", "baseline": "alphabetic", "dy": 12.7, "fontSize": 34, "color": "#848e9c"},
          "encoding": {
            "x": {"datum": {"year":2026,"month":9,"date":1,"hours":5,"minutes":12}, "type": "temporal"},
            "y": {"datum": 558070000, "type": "quantitative"},
            "text": {"value": "558,07M"}
          }
        },
        {
          "data": {"values": [{}]},
          "mark": {"type": "text", "align": "right", "baseline": "alphabetic", "dy": -17.5, "fontSize": 34, "color": "#848e9c"},
          "encoding": {
            "x": {"datum": {"year":2026,"month":9,"date":1,"hours":5,"minutes":12}, "type": "temporal"},
            "y": {"datum": 5610000, "type": "quantitative"},
            "text": {"value": "5,61M"}
          }
        }
      ]
    },
    {
      "data": {"values": [{}]},
      "layer": [
        {
          "data": {"name": "levels"},
          "mark": {"type": "text", "align": "right", "baseline": "alphabetic", "dy": -11, "fontSize": 34, "color": "#848e9c"},
          "encoding": {
            "x": {"datum": {"year":2026,"month":9,"date":1,"hours":5,"minutes":8}, "type": "temporal"},
            "y": {"field": "p", "type": "quantitative", "scale": {"domain": [0.007698, 0.010003], "range": [1236.4, 347.8], "nice": false, "zero": false}},
            "text": {"field": "p", "type": "quantitative", "format": ".6f"}
          }
        },
        {
          "data": {"name": "ticks"},
          "mark": {"type": "text", "align": "center", "baseline": "alphabetic", "dx": -7, "fontSize": 35, "color": "#848e9c"},
          "encoding": {
            "x": {"field": "t", "type": "temporal"},
            "y": {"datum": 0.0066406, "type": "quantitative"},
            "text": {"field": "t", "type": "temporal", "format": "%Y-%m-%d %H:%M"}
          }
        },
        {
          "mark": {"type": "text", "align": "center", "baseline": "middle", "fontSize": 58, "color": "#eaecef", "font": "DejaVu Sans"},
          "encoding": {
            "x": {"datum": {"year":2026,"month":8,"date":27,"hours":7,"minutes":9}, "type": "temporal"},
            "y": {"datum": 0.0106215, "type": "quantitative"},
            "text": {"value": "←"}
          }
        },
        {
          "mark": {"type": "text", "align": "left", "baseline": "alphabetic", "fontSize": 55, "fontWeight": "bold", "color": "#eaecef"},
          "encoding": {
            "x": {"datum": {"year":2026,"month":8,"date":27,"hours":11,"minutes":10}, "type": "temporal"},
            "y": {"datum": 0.0105849, "type": "quantitative"},
            "text": {"value": "ZKUSDT"}
          }
        },
        {
          "mark": {"type": "rect", "color": "#2b3139", "cornerRadius": 6},
          "encoding": {
            "x": {"datum": {"year":2026,"month":8,"date":27,"hours":23,"minutes":11}, "type": "temporal"},
            "x2": {"datum": {"year":2026,"month":8,"date":28,"hours":3,"minutes":26}},
            "y": {"datum": 0.0105823, "type": "quantitative"},
            "y2": {"datum": 0.0106916}
          }
        },
        {
          "mark": {"type": "text", "align": "center", "baseline": "alphabetic", "fontSize": 28, "color": "#eaecef"},
          "encoding": {
            "x": {"datum": {"year":2026,"month":8,"date":28,"hours":1,"minutes":19}, "type": "temporal"},
            "y": {"datum": 0.0106166, "type": "quantitative"},
            "text": {"value": "Perp"}
          }
        },
        {
          "mark": {"type": "text", "align": "left", "baseline": "alphabetic", "fontSize": 54, "fontWeight": "bold", "color": "#2ebd85"},
          "encoding": {
            "x": {"datum": {"year":2026,"month":8,"date":28,"hours":6,"minutes":50}, "type": "temporal"},
            "y": {"datum": 0.0106516, "type": "quantitative"},
            "text": {"value": "0,009388"}
          }
        },
        {
          "mark": {"type": "text", "align": "left", "baseline": "alphabetic", "fontSize": 37, "color": "#eaecef"},
          "encoding": {
            "x": {"datum": {"year":2026,"month":8,"date":28,"hours":6,"minutes":50}, "type": "temporal"},
            "y": {"datum": 0.0105035, "type": "quantitative"},
            "text": {"value": "$0,009388"}
          }
        },
        {
          "mark": {"type": "text", "align": "left", "baseline": "alphabetic", "fontSize": 37, "color": "#2ebd85"},
          "encoding": {
            "x": {"datum": {"year":2026,"month":8,"date":28,"hours":17,"minutes":30}, "type": "temporal"},
            "y": {"datum": 0.0105035, "type": "quantitative"},
            "text": {"value": "+17.18%"}
          }
        },
        {
          "mark": {"type": "text", "align": "left", "baseline": "alphabetic", "fontSize": 31, "color": "#848e9c"},
          "encoding": {
            "x": {"datum": {"year":2026,"month":8,"date":29,"hours":3,"minutes":38}, "type": "temporal"},
            "y": {"datum": 0.0106682, "type": "quantitative"},
            "text": {"value": "Mark Price"}
          }
        },
        {
          "mark": {"type": "text", "align": "left", "baseline": "alphabetic", "fontSize": 34, "color": "#eaecef"},
          "encoding": {
            "x": {"datum": {"year":2026,"month":8,"date":29,"hours":3,"minutes":38}, "type": "temporal"},
            "y": {"datum": 0.0105203, "type": "quantitative"},
            "text": {"value": "0,009388"}
          }
        },
        {
          "mark": {"type": "text", "align": "left", "baseline": "alphabetic", "fontSize": 31, "color": "#848e9c"},
          "encoding": {
            "x": {"datum": {"year":2026,"month":8,"date":29,"hours":14,"minutes":20}, "type": "temporal"},
            "y": {"datum": 0.0106682, "type": "quantitative"},
            "text": {"value": "24h High"}
          }
        },
        {
          "mark": {"type": "text", "align": "left", "baseline": "alphabetic", "fontSize": 34, "color": "#eaecef"},
          "encoding": {
            "x": {"datum": {"year":2026,"month":8,"date":29,"hours":14,"minutes":20}, "type": "temporal"},
            "y": {"datum": 0.0105203, "type": "quantitative"},
            "text": {"value": "0,009784"}
          }
        },
        {
          "mark": {"type": "text", "align": "left", "baseline": "alphabetic", "fontSize": 31, "color": "#848e9c"},
          "encoding": {
            "x": {"datum": {"year":2026,"month":8,"date":29,"hours":23,"minutes":54}, "type": "temporal"},
            "y": {"datum": 0.0106682, "type": "quantitative"},
            "text": {"value": "24h Low"}
          }
        },
        {
          "mark": {"type": "text", "align": "left", "baseline": "alphabetic", "fontSize": 34, "color": "#eaecef"},
          "encoding": {
            "x": {"datum": {"year":2026,"month":8,"date":29,"hours":23,"minutes":54}, "type": "temporal"},
            "y": {"datum": 0.0105203, "type": "quantitative"},
            "text": {"value": "0,007961"}
          }
        },
        {
          "mark": {"type": "text", "align": "left", "baseline": "alphabetic", "fontSize": 31, "color": "#848e9c"},
          "encoding": {
            "x": {"datum": {"year":2026,"month":8,"date":30,"hours":9,"minutes":13}, "type": "temporal"},
            "y": {"datum": 0.0106682, "type": "quantitative"},
            "text": {"value": "24h Vol(ZK)"}
          }
        },
        {
          "mark": {"type": "text", "align": "left", "baseline": "alphabetic", "fontSize": 34, "color": "#eaecef"},
          "encoding": {
            "x": {"datum": {"year":2026,"month":8,"date":30,"hours":9,"minutes":13}, "type": "temporal"},
            "y": {"datum": 0.0105203, "type": "quantitative"},
            "text": {"value": "2,28B"}
          }
        },
        {
          "mark": {"type": "text", "align": "left", "baseline": "alphabetic", "fontSize": 31, "color": "#848e9c"},
          "encoding": {
            "x": {"datum": {"year":2026,"month":8,"date":30,"hours":20,"minutes":53}, "type": "temporal"},
            "y": {"datum": 0.0106682, "type": "quantitative"},
            "text": {"value": "24h Vol(USDT)"}
          }
        },
        {
          "mark": {"type": "text", "align": "left", "baseline": "alphabetic", "fontSize": 34, "color": "#eaecef"},
          "encoding": {
            "x": {"datum": {"year":2026,"month":8,"date":30,"hours":20,"minutes":53}, "type": "temporal"},
            "y": {"datum": 0.0105203, "type": "quantitative"},
            "text": {"value": "20,40M"}
          }
        },
        {
          "mark": {"type": "text", "align": "left", "baseline": "alphabetic", "fontSize": 35, "color": "#848e9c"},
          "encoding": {
            "x": {"datum": {"year":2026,"month":8,"date":27,"hours":5,"minutes":30}, "type": "temporal"},
            "y": {"datum": 0.0102487, "type": "quantitative"},
            "text": {"value": "Time"}
          }
        },
        {
          "mark": {"type": "text", "align": "left", "baseline": "alphabetic", "fontSize": 35, "color": "#848e9c"},
          "encoding": {
            "x": {"datum": {"year":2026,"month":8,"date":27,"hours":17,"minutes":5}, "type": "temporal"},
            "y": {"datum": 0.0102487, "type": "quantitative"},
            "text": {"value": "5m"}
          }
        },
        {
          "mark": {"type": "text", "align": "left", "baseline": "alphabetic", "fontSize": 35, "color": "#848e9c"},
          "encoding": {
            "x": {"datum": {"year":2026,"month":8,"date":28,"hours":3,"minutes":12}, "type": "temporal"},
            "y": {"datum": 0.0102487, "type": "quantitative"},
            "text": {"value": "15m"}
          }
        },
        {
          "mark": {"type": "text", "align": "left", "baseline": "alphabetic", "fontSize": 35, "color": "#848e9c"},
          "encoding": {
            "x": {"datum": {"year":2026,"month":8,"date":28,"hours":14,"minutes":5}, "type": "temporal"},
            "y": {"datum": 0.0102487, "type": "quantitative"},
            "text": {"value": "30m"}
          }
        },
        {
          "mark": {"type": "text", "align": "left", "baseline": "alphabetic", "fontSize": 35, "color": "#eaecef"},
          "encoding": {
            "x": {"datum": {"year":2026,"month":8,"date":29,"hours":1,"minutes":20}, "type": "temporal"},
            "y": {"datum": 0.0102487, "type": "quantitative"},
            "text": {"value": "1h"}
          }
        },
        {
          "mark": {"type": "text", "align": "left", "baseline": "alphabetic", "fontSize": 35, "color": "#848e9c"},
          "encoding": {
            "x": {"datum": {"year":2026,"month":8,"date":29,"hours":10,"minutes":38}, "type": "temporal"},
            "y": {"datum": 0.0102487, "type": "quantitative"},
            "text": {"value": "4h"}
          }
        },
        {
          "mark": {"type": "text", "align": "left", "baseline": "alphabetic", "fontSize": 35, "color": "#848e9c"},
          "encoding": {
            "x": {"datum": {"year":2026,"month":8,"date":29,"hours":20,"minutes":10}, "type": "temporal"},
            "y": {"datum": 0.0102487, "type": "quantitative"},
            "text": {"value": "1d"}
          }
        },
        {
          "mark": {"type": "text", "align": "left", "baseline": "alphabetic", "fontSize": 35, "color": "#848e9c"},
          "encoding": {
            "x": {"datum": {"year":2026,"month":8,"date":30,"hours":5,"minutes":45}, "type": "temporal"},
            "y": {"datum": 0.0102487, "type": "quantitative"},
            "text": {"value": "1w"}
          }
        },
        {
          "mark": {"type": "text", "align": "left", "baseline": "alphabetic", "fontSize": 35, "color": "#848e9c"},
          "encoding": {
            "x": {"datum": {"year":2026,"month":8,"date":30,"hours":15,"minutes":33}, "type": "temporal"},
            "y": {"datum": 0.0102487, "type": "quantitative"},
            "text": {"value": "More▾"}
          }
        },
        {
          "mark": {"type": "text", "align": "left", "baseline": "alphabetic", "fontSize": 48, "fontWeight": "bold", "color": "#eaecef"},
          "encoding": {
            "x": {"datum": {"year":2026,"month":8,"date":31,"hours":0,"minutes":3}, "type": "temporal"},
            "y": {"datum": 0.0102202, "type": "quantitative"},
            "text": {"value": "@Lina likes Trading"}
          }
        },
        {
          "mark": {"type": "text", "align": "left", "baseline": "alphabetic", "fontSize": 31, "color": "#f0b90b"},
          "encoding": {
            "x": {"datum": {"year":2026,"month":8,"date":27,"hours":5,"minutes":30}, "type": "temporal"},
            "y": {"datum": 0.0100355, "type": "quantitative"},
            "text": {"value": "MA(7): 0,009031"}
          }
        },
        {
          "mark": {"type": "text", "align": "left", "baseline": "alphabetic", "fontSize": 31, "color": "#e84fb2"},
          "encoding": {
            "x": {"datum": {"year":2026,"month":8,"date":27,"hours":19,"minutes":10}, "type": "temporal"},
            "y": {"datum": 0.0100355, "type": "quantitative"},
            "text": {"value": "MA(25): 0,008490"}
          }
        },
        {
          "mark": {"type": "text", "align": "left", "baseline": "alphabetic", "fontSize": 31, "color": "#8f70c2"},
          "encoding": {
            "x": {"datum": {"year":2026,"month":8,"date":28,"hours":9,"minutes":50}, "type": "temporal"},
            "y": {"datum": 0.0100355, "type": "quantitative"},
            "text": {"value": "MA(99): 0,008474"}
          }
        },
        {
          "mark": {"type": "text", "align": "left", "baseline": "alphabetic", "fontSize": 31, "color": "#f0b90b"},
          "encoding": {
            "x": {"datum": {"year":2026,"month":8,"date":27,"hours":5,"minutes":30}, "type": "temporal"},
            "y": {"datum": 0.0075823, "type": "quantitative"},
            "text": {"value": "RSI(6): 77,94"}
          }
        },
        {
          "mark": {"type": "text", "align": "left", "baseline": "alphabetic", "fontSize": 31, "color": "#e84fb2"},
          "encoding": {
            "x": {"datum": {"year":2026,"month":8,"date":27,"hours":16,"minutes":32}, "type": "temporal"},
            "y": {"datum": 0.0075823, "type": "quantitative"},
            "text": {"value": "RSI(12): 77,91"}
          }
        },
        {
          "mark": {"type": "text", "align": "left", "baseline": "alphabetic", "fontSize": 31, "color": "#8f70c2"},
          "encoding": {
            "x": {"datum": {"year":2026,"month":8,"date":28,"hours":4,"minutes":19}, "type": "temporal"},
            "y": {"datum": 0.0075823, "type": "quantitative"},
            "text": {"value": "RSI(24): 71,82"}
          }
        },
        {
          "mark": {"type": "text", "align": "left", "baseline": "alphabetic", "fontSize": 31, "color": "#848e9c"},
          "encoding": {
            "x": {"datum": {"year":2026,"month":8,"date":27,"hours":5,"minutes":30}, "type": "temporal"},
            "y": {"datum": 0.0071322, "type": "quantitative"},
            "text": {"value": "Vol: 137.459.941"}
          }
        },
        {
          "mark": {"type": "text", "align": "left", "baseline": "alphabetic", "fontSize": 31, "color": "#f0b90b"},
          "encoding": {
            "x": {"datum": {"year":2026,"month":8,"date":27,"hours":19,"minutes":24}, "type": "temporal"},
            "y": {"datum": 0.0071322, "type": "quantitative"},
            "text": {"value": "MA(5): 280.062.930"}
          }
        },
        {
          "mark": {"type": "text", "align": "left", "baseline": "alphabetic", "fontSize": 31, "color": "#8f70c2"},
          "encoding": {
            "x": {"datum": {"year":2026,"month":8,"date":28,"hours":11,"minutes":41}, "type": "temporal"},
            "y": {"datum": 0.0071322, "type": "quantitative"},
            "text": {"value": "MA(10): 177.349.330"}
          }
        },
        {
          "mark": {"type": "text", "align": "right", "baseline": "alphabetic", "fontSize": 23, "color": "#c9ced6"},
          "encoding": {
            "x": {"datum": {"year":2026,"month":9,"date":1,"hours":7,"minutes":56}, "type": "temporal"},
            "y": {"datum": 0.0065316, "type": "quantitative"},
            "text": {"value": "❖@ Lina likes Trading"}
          }
        },
        {
          "mark": {"type": "rect", "fill": "#363a45", "fillOpacity": 0.95, "stroke": "#555b66", "strokeWidth": 2, "cornerRadius": 8},
          "encoding": {
            "x": {"datum": {"year":2026,"month":8,"date":30,"hours":19}, "type": "temporal"},
            "x2": {"datum": {"year":2026,"month":8,"date":31,"hours":20,"minutes":57}},
            "y": {"datum": 0.0077405, "type": "quantitative"},
            "y2": {"datum": 0.0069908}
          }
        },
        {
          "mark": {"type": "text", "align": "left", "baseline": "alphabetic", "fontSize": 40, "fontWeight": 600, "color": "#f6465d"},
          "encoding": {
            "x": {"datum": {"year":2026,"month":8,"date":30,"hours":20,"minutes":4}, "type": "temporal"},
            "y": {"datum": 0.0075615, "type": "quantitative"},
            "text": {"value": "SHORT ZK"}
          }
        },
        {
          "mark": {"type": "text", "align": "left", "baseline": "alphabetic", "fontSize": 32, "fontWeight": 600, "color": "#f6465d"},
          "encoding": {
            "x": {"datum": {"year":2026,"month":8,"date":30,"hours":20,"minutes":4}, "type": "temporal"},
            "y": {"datum": 0.0073955, "type": "quantitative"},
            "text": {"value": "ENTRY: 0,009389"}
          }
        },
        {
          "mark": {"type": "text", "align": "left", "baseline": "alphabetic", "fontSize": 32, "fontWeight": 600, "color": "#f6465d"},
          "encoding": {
            "x": {"datum": {"year":2026,"month":8,"date":30,"hours":20,"minutes":4}, "type": "temporal"},
            "y": {"datum": 0.0072253, "type": "quantitative"},
            "text": {"value": "TP: 0,008950 - 0,008502"}
          }
        },
        {
          "mark": {"type": "text", "align": "left", "baseline": "alphabetic", "fontSize": 32, "fontWeight": 600, "color": "#f6465d"},
          "encoding": {
            "x": {"datum": {"year":2026,"month":8,"date":30,"hours":20,"minutes":4}, "type": "temporal"},
            "y": {"datum": 0.0070608, "type": "quantitative"},
            "text": {"value": "SL: 0,009850"}
          }
        }
      ]
    }
  ]
}
